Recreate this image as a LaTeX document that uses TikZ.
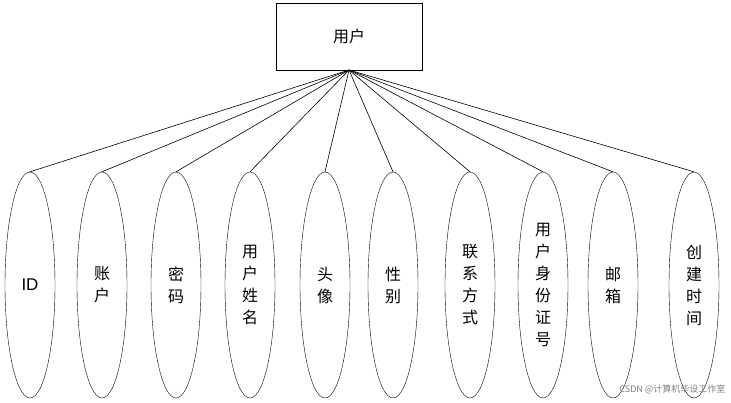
\documentclass[tikz,border=0pt]{standalone}
\usepackage{fontspec}
\setmainfont{Liberation Sans}
\newfontfamily\cjk{Noto Sans CJK SC}
\usetikzlibrary{shapes.geometric}
\begin{document}
\begin{tikzpicture}[x=1pt,y=-1pt,
  attr/.style={draw,ellipse,minimum width=50pt,minimum height=226pt,inner sep=0pt,font=\cjk\fontsize{16}{22}\selectfont,align=center},
  ent/.style={draw,minimum width=146pt,minimum height=67pt,font=\cjk\fontsize{16}{20}\selectfont},
  link/.style={draw,line width=0.6pt}]
\useasboundingbox[fill=white] (0,0) rectangle (731,402);
\node[ent] (u) at (349,36.5) {用户};
\coordinate (h) at (349,70);
\node[attr] (a1) at (30,285) {\fontspec{Liberation Sans}\fontsize{17}{20}\selectfont ID};
\node[attr] (a2) at (102,285) {账\\户};
\node[attr] (a3) at (176,285) {密\\码};
\node[attr] (a4) at (250,285) {用\\户\\姓\\名};
\node[attr] (a5) at (325,285) {头\\像};
\node[attr] (a6) at (393,285) {性\\别};
\node[attr] (a7) at (470,285) {联\\系\\方\\式};
\node[attr] (a8) at (543,285) {用\\户\\身\\份\\证\\号};
\node[attr] (a9) at (613,285) {邮\\箱};
\node[attr] (a10) at (694,285) {创\\建\\时\\间};
\foreach \i in {1,...,10} \draw[link] (h) -- (a\i.north);
\node[anchor=east,text=gray,font=\cjk\fontsize{9}{11}\selectfont] (wm) at (729,389) {CSDN @计算机毕设工作室};
\end{tikzpicture}
\end{document}
